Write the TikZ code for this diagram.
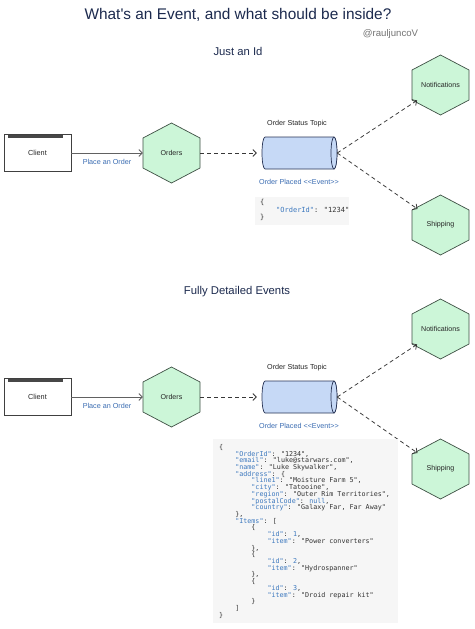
\documentclass[tikz,border=0pt]{standalone}
\usepackage{fontspec}
\setmainfont{Liberation Sans}
\newfontfamily\jsonfont{DejaVu Sans Mono}
\usetikzlibrary{arrows.meta,calc}
\definecolor{titlenavy}{RGB}{28,42,78}
\definecolor{labelblue}{RGB}{58,108,178}
\definecolor{hexfill}{RGB}{204,246,216}
\definecolor{hexdraw}{RGB}{62,80,68}
\definecolor{cylfill}{RGB}{198,217,246}
\definecolor{cyldraw}{RGB}{40,52,85}
\definecolor{conncol}{RGB}{55,55,55}
\definecolor{jsonbg}{RGB}{246,246,246}
\definecolor{jsonkey}{RGB}{60,120,190}
\definecolor{jsonval}{RGB}{50,50,50}
\newcommand\jk[1]{\textcolor{jsonkey}{"#1"}}
\newcommand\jn[1]{\textcolor{jsonkey}{#1}}
\newcommand\jline[4]{\node[jsontext] (#1) at ({219+16.12*#2},{449.3+6.72*(#3-1)}) {#4};}
\tikzset{
  hexline/.style={fill=hexfill, draw=hexdraw, line width=0.7pt, line join=round},
  hexpic/.pic={\filldraw[hexline] (0,-30) -- (28.5,-15) -- (28.5,15) -- (0,30) -- (-28.5,15) -- (-28.5,-15) -- cycle;},
  hexn/.style={minimum width=57pt, minimum height=60pt, inner sep=0pt, font=\fontsize{7.1}{8}\selectfont, text=black!85},
  clientbox/.style={draw=black!75, line width=0.7pt, fill=white, minimum width=67pt, minimum height=37pt, inner sep=0pt, font=\fontsize{7.3}{8}\selectfont, text=black!85},
  topicn/.style={minimum width=75pt, minimum height=32pt, inner sep=0pt},
  cyl/.style={fill=cylfill, draw=cyldraw, line width=0.7pt},
  conn/.style={draw=conncol, line width=0.75pt, -{Straight Barb[length=3.5pt,width=7pt]}},
  sconn/.style={conn, draw=black!62},
  dconn/.style={conn, dash pattern=on 4pt off 3pt},
  lbl/.style={font=\fontsize{7.2}{8}\selectfont, inner sep=0pt},
  bluelbl/.style={lbl, text=labelblue},
  subtitle/.style={font=\fontsize{11.3}{13}\selectfont, text=titlenavy, inner sep=0pt},
  jsontext/.style={anchor=base west, inner sep=0pt, font=\jsonfont\fontsize{6.7}{7}\selectfont, text=jsonval},
  sjsontext/.style={jsontext, font=\jsonfont\fontsize{7}{8}\selectfont}
}
\begin{document}
\begin{tikzpicture}[x=1pt,y=-1pt]
\fill[white] (0,0) rectangle (474,629);
\useasboundingbox (0,0) rectangle (474,629);

% titles
\node[font=\fontsize{15.4}{18}\selectfont, text=titlenavy, inner sep=0pt] (title) at (238,14.5) {What\textquotesingle s an Event, and what should be inside?};
\node[font=\fontsize{9.6}{11}\selectfont, text=black!55, inner sep=0pt] (handle) at (390.5,34.5) {@rauljuncoV};
\node[subtitle] (sub1) at (238,51) {Just an Id};
\node[subtitle] (sub2) at (237,292) {Fully Detailed Events};

% ===== top diagram =====
\node[clientbox] (client1) at (37.5,153) {Client};
\fill[black!72] ($(client1.north west)+(4,1.3)$) rectangle ($(client1.north east)+(-8,3.4)$);
\pic at (171.5,153) {hexpic};
\node[hexn] (orders1) at (171.5,153) {Orders};
\filldraw[cyl] (265,137) -- (334,137) arc[start angle=90,end angle=-90,x radius=3pt,y radius=16pt] -- (265,169) arc[start angle=270,end angle=90,x radius=3pt,y radius=16pt] -- cycle;
\draw[cyl] (334,153) ellipse[x radius=3pt,y radius=16pt];
\node[topicn] (topic1) at (299.5,153) {};
\node[lbl, text=black!85] (topiclbl1) at (297,124) {Order Status Topic};
\node[bluelbl] (place1) at (107,161.5) {Place an Order};
\node[bluelbl] (evt1) at (299,182) {Order Placed <{}<Event>{}>};
\pic at (440.5,85) {hexpic};
\node[hexn] (notif1) at (440.5,85) {Notifications};
\pic at (440.5,225) {hexpic};
\node[hexn] (ship1) at (440.5,225) {Shipping};

\draw[sconn] (client1.east) -- (orders1.west);
\draw[dconn, shorten >=5pt] (orders1.east) -- (topic1.west);
\draw[dconn, shorten >=28pt] (topic1.east) -- (notif1.center);
\draw[dconn, shorten >=28pt] (topic1.east) -- (ship1.center);

\fill[jsonbg] (255,196.5) rectangle (349,224.5);
\node[sjsontext] (sj1) at (260,204.3) {\{};
\node[sjsontext] (sj2) at (276,212) {\jk{OrderId}: "1234"};
\node[sjsontext] (sj3) at (260,219.6) {\}};

% ===== bottom diagram =====
\node[clientbox] (client2) at (37.5,397) {Client};
\fill[black!72] ($(client2.north west)+(4,1.3)$) rectangle ($(client2.north east)+(-8,3.4)$);
\pic at (171.5,397) {hexpic};
\node[hexn] (orders2) at (171.5,397) {Orders};
\filldraw[cyl] (265,381) -- (334,381) arc[start angle=90,end angle=-90,x radius=3pt,y radius=16pt] -- (265,413) arc[start angle=270,end angle=90,x radius=3pt,y radius=16pt] -- cycle;
\draw[cyl] (334,397) ellipse[x radius=3pt,y radius=16pt];
\node[topicn] (topic2) at (299.5,397) {};
\node[lbl, text=black!85] (topiclbl2) at (297,368) {Order Status Topic};
\node[bluelbl] (place2) at (107,405.5) {Place an Order};
\node[bluelbl] (evt2) at (299,426) {Order Placed <{}<Event>{}>};
\pic at (440.5,329) {hexpic};
\node[hexn] (notif2) at (440.5,329) {Notifications};
\pic at (440.5,469) {hexpic};
\node[hexn] (ship2) at (440.5,469) {Shipping};

\draw[sconn] (client2.east) -- (orders2.west);
\draw[dconn, shorten >=5pt] (orders2.east) -- (topic2.west);
\draw[dconn, shorten >=28pt] (topic2.east) -- (notif2.center);
\draw[dconn, shorten >=28pt] (topic2.east) -- (ship2.center);

\fill[jsonbg] (213,439) rectangle (398,623);
\jline{j1}{0}{1}{\{}
\jline{j2}{1}{2}{\jk{OrderId}: "1234",}
\jline{j3}{1}{3}{\jk{email}: "luke@starwars.com",}
\jline{j4}{1}{4}{\jk{name}: "Luke Skywalker",}
\jline{j5}{1}{5}{\jk{address}: \{}
\jline{j6}{2}{6}{\jk{line1}: "Moisture Farm 5",}
\jline{j7}{2}{7}{\jk{city}: "Tatooine",}
\jline{j8}{2}{8}{\jk{region}: "Outer Rim Territories",}
\jline{j9}{2}{9}{\jk{postalCode}: \jn{null},}
\jline{j10}{2}{10}{\jk{country}: "Galaxy Far, Far Away"}
\jline{j11}{1}{11}{\},}
\jline{j12}{1}{12}{\jk{Items}: [}
\jline{j13}{2}{13}{\{}
\jline{j14}{3}{14}{\jk{id}: \jn{1},}
\jline{j15}{3}{15}{\jk{item}: "Power converters"}
\jline{j16}{2}{16}{\},}
\jline{j17}{2}{17}{\{}
\jline{j18}{3}{18}{\jk{id}: \jn{2},}
\jline{j19}{3}{19}{\jk{item}: "Hydrospanner"}
\jline{j20}{2}{20}{\},}
\jline{j21}{2}{21}{\{}
\jline{j22}{3}{22}{\jk{id}: \jn{3},}
\jline{j23}{3}{23}{\jk{item}: "Droid repair kit"}
\jline{j24}{2}{24}{\}}
\jline{j25}{1}{25}{]}
\jline{j26}{0}{26}{\}}
\end{tikzpicture}
\end{document}
